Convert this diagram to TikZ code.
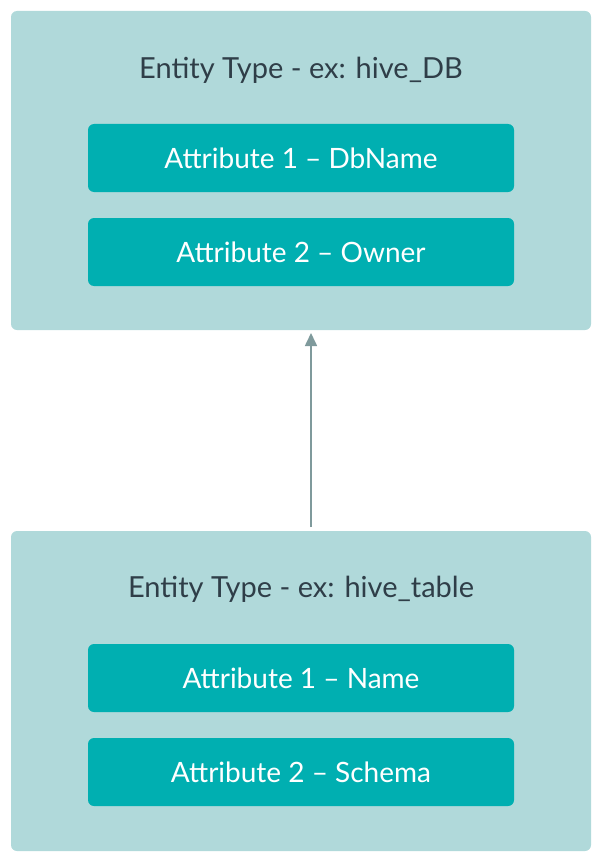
\documentclass[tikz,border=0pt]{standalone}
\usepackage{fontspec}
\setmainfont{Lato}
\definecolor{outer}{HTML}{B0D9DA}
\definecolor{inner}{HTML}{00AFB1}
\definecolor{titlec}{HTML}{2F3E48}
\definecolor{arr}{HTML}{7F9A9C}
\usetikzlibrary{arrows.meta}
\begin{document}
\begin{tikzpicture}[x=1pt,y=-1pt,
  outerbox/.style={fill=outer,rounded corners=6pt},
  attr/.style={fill=inner,rounded corners=6pt,minimum width=426pt,minimum height=68pt,text=white,font=\fontsize{28}{32}\selectfont,inner sep=0pt},
  ttl/.style={text=titlec,font=\fontsize{29}{33}\selectfont}]
\useasboundingbox (0,0) rectangle (602,864);
\fill[outerbox] (11,11) rectangle (591,330);
\node[ttl] (t1) at (301,70) {Entity Type - ex: hive\_DB};
\node[attr] (a1) at (301,158) {Attribute 1 -- DbName};
\node[attr] (a2) at (301,252) {Attribute 2 -- Owner};
\fill[outerbox] (11,531) rectangle (591,851);
\node[ttl] (t2) at (301,589) {Entity Type - ex: hive\_table};
\node[attr] (b1) at (301,678) {Attribute 1 -- Name};
\node[attr] (b2) at (301,772) {Attribute 2 -- Schema};
\coordinate (s) at (311,527);
\coordinate (e) at (311,333);
\draw[arr,line width=1.6pt,-{Triangle[length=13pt,width=12pt]}] (s) -- (e);
\end{tikzpicture}
\end{document}
